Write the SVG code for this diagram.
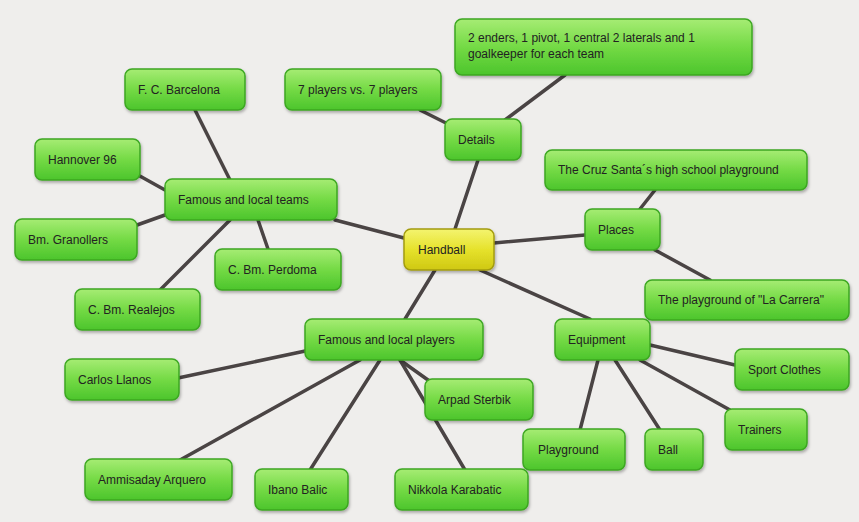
<svg xmlns="http://www.w3.org/2000/svg" width="859" height="522" viewBox="0 0 859 522">
<defs>
<linearGradient id="g" x1="0" y1="0" x2="0" y2="1"><stop offset="0" stop-color="#a6ec74"/><stop offset="0.5" stop-color="#74da45"/><stop offset="1" stop-color="#4cc52c"/></linearGradient>
<linearGradient id="y" x1="0" y1="0" x2="0" y2="1"><stop offset="0" stop-color="#f4f470"/><stop offset="0.5" stop-color="#e6e22c"/><stop offset="1" stop-color="#cfc812"/></linearGradient>
<filter id="s" x="-10%" y="-10%" width="130%" height="140%"><feDropShadow dx="1" dy="2" stdDeviation="1.5" flood-color="#000" flood-opacity="0.3"/></filter>
</defs>
<style>
.n rect{fill:url(#g);stroke:#3da722;stroke-width:1.5;filter:url(#s)}
.c rect{fill:url(#y);stroke:#a39c10;stroke-width:1.5;filter:url(#s)}
text{font-family:"Liberation Sans",Arial,sans-serif;font-size:12px;fill:#222}
#edges line{stroke:#4a4444;stroke-width:3.5;stroke-linecap:round}
</style>
<rect width="859" height="522" fill="#efeeec"/>
<g id="edges">
<line x1="455" y1="229" x2="478" y2="160"/>
<line x1="494" y1="243" x2="585" y2="235"/>
<line x1="480" y1="270" x2="590" y2="319"/>
<line x1="435" y1="270" x2="405" y2="319"/>
<line x1="404" y1="238" x2="335" y2="220"/>
<line x1="505" y1="120" x2="565" y2="75"/>
<line x1="450" y1="125" x2="420" y2="110"/>
<line x1="640" y1="209" x2="655" y2="190"/>
<line x1="655" y1="250" x2="710" y2="280"/>
<line x1="650" y1="345" x2="735" y2="365"/>
<line x1="640" y1="360" x2="730" y2="410"/>
<line x1="615" y1="360" x2="660" y2="430"/>
<line x1="598" y1="360" x2="580" y2="430"/>
<line x1="400" y1="360" x2="435" y2="385"/>
<line x1="400" y1="360" x2="465" y2="470"/>
<line x1="380" y1="360" x2="310" y2="470"/>
<line x1="360" y1="360" x2="180" y2="460"/>
<line x1="310" y1="350" x2="178" y2="378"/>
<line x1="230" y1="180" x2="195" y2="110"/>
<line x1="165" y1="190" x2="138" y2="175"/>
<line x1="165" y1="215" x2="137" y2="225"/>
<line x1="230" y1="220" x2="160" y2="290"/>
<line x1="258" y1="220" x2="268" y2="249"/>
</g>
<g id="handball" class="c"><rect x="404" y="229" width="90" height="41" rx="7"/><text x="418" y="254">Handball</text></g>
<g id="details" class="n"><rect x="445" y="119" width="76" height="41" rx="7"/><text x="458" y="144">Details</text></g>
<g id="enders" class="n"><rect x="455" y="19" width="297" height="56" rx="7"/><text x="468" y="42">2 enders, 1 pivot, 1 central 2 laterals and 1</text><text x="468" y="58">goalkeeper for each team</text></g>
<g id="seven" class="n"><rect x="285" y="69" width="156" height="41" rx="7"/><text x="298" y="94">7 players vs. 7 players</text></g>
<g id="places" class="n"><rect x="585" y="209" width="75" height="41" rx="7"/><text x="598" y="234">Places</text></g>
<g id="cruz" class="n"><rect x="545" y="150" width="262" height="40" rx="7"/><text x="558" y="174">The Cruz Santa´s high school playground</text></g>
<g id="carrera" class="n"><rect x="645" y="280" width="204" height="40" rx="7"/><text x="658" y="304">The playground of "La Carrera"</text></g>
<g id="equipment" class="n"><rect x="555" y="319" width="95" height="41" rx="7"/><text x="568" y="344">Equipment</text></g>
<g id="sport" class="n"><rect x="735" y="349" width="114" height="41" rx="7"/><text x="748" y="374">Sport Clothes</text></g>
<g id="trainers" class="n"><rect x="725" y="409" width="82" height="41" rx="7"/><text x="738" y="434">Trainers</text></g>
<g id="ball" class="n"><rect x="645" y="429" width="58" height="41" rx="7"/><text x="658" y="454">Ball</text></g>
<g id="playground" class="n"><rect x="523" y="429" width="102" height="41" rx="7"/><text x="538" y="454">Playground</text></g>
<g id="players" class="n"><rect x="305" y="319" width="178" height="41" rx="7"/><text x="318" y="344">Famous and local players</text></g>
<g id="arpad" class="n"><rect x="425" y="379" width="108" height="41" rx="7"/><text x="438" y="404">Arpad Sterbik</text></g>
<g id="nikkola" class="n"><rect x="395" y="469" width="133" height="41" rx="7"/><text x="408" y="494">Nikkola Karabatic</text></g>
<g id="ibano" class="n"><rect x="255" y="469" width="93" height="41" rx="7"/><text x="268" y="494">Ibano Balic</text></g>
<g id="ammisaday" class="n"><rect x="85" y="459" width="147" height="41" rx="7"/><text x="98" y="484">Ammisaday Arquero</text></g>
<g id="carlos" class="n"><rect x="65" y="359" width="114" height="41" rx="7"/><text x="78" y="384">Carlos Llanos</text></g>
<g id="teams" class="n"><rect x="165" y="179" width="172" height="41" rx="7"/><text x="178" y="204">Famous and local teams</text></g>
<g id="barcelona" class="n"><rect x="125" y="69" width="120" height="41" rx="7"/><text x="138" y="94">F. C. Barcelona</text></g>
<g id="hannover" class="n"><rect x="35" y="139" width="105" height="41" rx="7"/><text x="48" y="164">Hannover 96</text></g>
<g id="granollers" class="n"><rect x="15" y="219" width="122" height="41" rx="7"/><text x="28" y="244">Bm. Granollers</text></g>
<g id="realejos" class="n"><rect x="75" y="289" width="125" height="41" rx="7"/><text x="88" y="314">C. Bm. Realejos</text></g>
<g id="perdoma" class="n"><rect x="215" y="249" width="126" height="41" rx="7"/><text x="228" y="274">C. Bm. Perdoma</text></g>
</svg>
